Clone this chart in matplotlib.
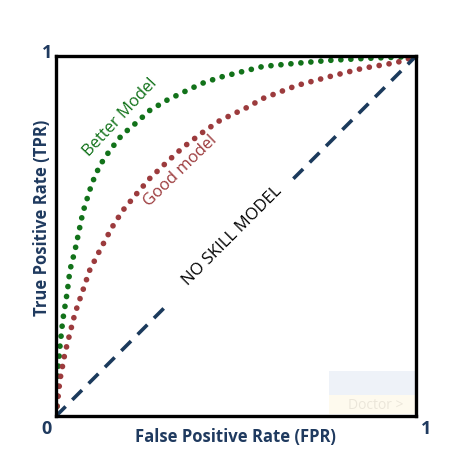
import matplotlib.pyplot as plt
from matplotlib.patches import Rectangle

plt.rcParams['font.family'] = ['Open Sans', 'DejaVu Sans']

# curves (FPR, TPR)
better_fpr = [0, 0.003, 0.006, 0.011, 0.019, 0.031, 0.039, 0.053, 0.075, 0.1, 0.122, 0.15,
              0.183, 0.225, 0.261, 0.308, 0.353, 0.406, 0.456, 0.531, 0.575, 0.669, 0.761, 0.853, 1]
better_tpr = [0, 0.025, 0.128, 0.192, 0.267, 0.342, 0.406, 0.461, 0.567, 0.647, 0.697, 0.739,
              0.781, 0.817, 0.85, 0.878, 0.9, 0.925, 0.942, 0.961, 0.972, 0.981, 0.989, 0.994, 1]

good_fpr = [0, 0.003, 0.011, 0.025, 0.039, 0.053, 0.075, 0.094, 0.122, 0.156, 0.186, 0.225,
            0.261, 0.308, 0.353, 0.408, 0.456, 0.531, 0.575, 0.669, 0.761, 0.853, 0.947, 1]
good_tpr = [0, 0.025, 0.1, 0.175, 0.231, 0.286, 0.35, 0.406, 0.461, 0.525, 0.572, 0.619,
            0.661, 0.706, 0.747, 0.789, 0.822, 0.858, 0.883, 0.919, 0.944, 0.967, 0.983, 1]

# no-skill diagonal, broken where the label sits
noskill_low = [0, 0.31]
noskill_high = [0.66, 1]

tick_labels = ['0', '1']

navy = '#1f3a5f'
green = '#12721a'
red = '#9c3b3d'

fig = plt.figure(figsize=(4.74, 4.74), dpi=100)
ax = fig.add_axes([0.118, 0.122, 0.759, 0.759])

dots = dict(linestyle=(0, (0.01, 1.75)), dash_capstyle='round', linewidth=4.1)
ax.plot(better_fpr, better_tpr, color=green, **dots)
ax.plot(good_fpr, good_tpr, color=red, **dots)

dash = dict(color='#1b3a5c', linewidth=2.6, linestyle=(0, (3.8, 2.6)))
ax.plot(noskill_low, noskill_low, **dash)
ax.plot(noskill_high, noskill_high, **dash)

ax.text(0.49, 0.5, 'NO SKILL MODEL', rotation=45, ha='center', va='center',
        fontsize=12, color='black')
ax.text(0.18, 0.83, 'Better Model', rotation=47, ha='center', va='center',
        fontsize=12, color=green)
ax.text(0.345, 0.68, 'Good model', rotation=44, ha='center', va='center',
        fontsize=12, color=red)

# faint watermark in the corner
ax.add_patch(Rectangle((0.76, 0.06), 0.24, 0.065, color='#eef2f8', lw=0, zorder=0))
ax.add_patch(Rectangle((0.76, 0.005), 0.24, 0.055, color='#fefaee', lw=0, zorder=0))
ax.text(0.965, 0.03, 'Doctor >', ha='right', va='center', fontsize=10, color='#ebe6da', zorder=0)

ax.set_xlim(0, 1)
ax.set_ylim(0, 1)
ax.set_xticks([])
ax.set_yticks([])
for s in ax.spines.values():
    s.set_linewidth(2.4)
    s.set_color('black')

lab = dict(fontsize=12, fontweight='bold', color=navy)
ax.text(-0.025, -0.035, tick_labels[0], ha='center', va='center', transform=ax.transAxes,
        fontsize=13, fontweight='bold', color=navy)
ax.text(1.03, -0.035, tick_labels[1], ha='center', va='center', transform=ax.transAxes,
        fontsize=13, fontweight='bold', color=navy)
ax.text(-0.025, 1.01, tick_labels[1], ha='center', va='center', transform=ax.transAxes,
        fontsize=13, fontweight='bold', color=navy)

ax.text(0.5, -0.058, 'False Positive Rate (FPR)', ha='center', va='center',
        transform=ax.transAxes, **lab)
ax.text(-0.04, 0.55, 'True Positive Rate (TPR)', ha='center', va='center', rotation=90,
        transform=ax.transAxes, **lab)

fig.savefig('out.png', dpi=100)
